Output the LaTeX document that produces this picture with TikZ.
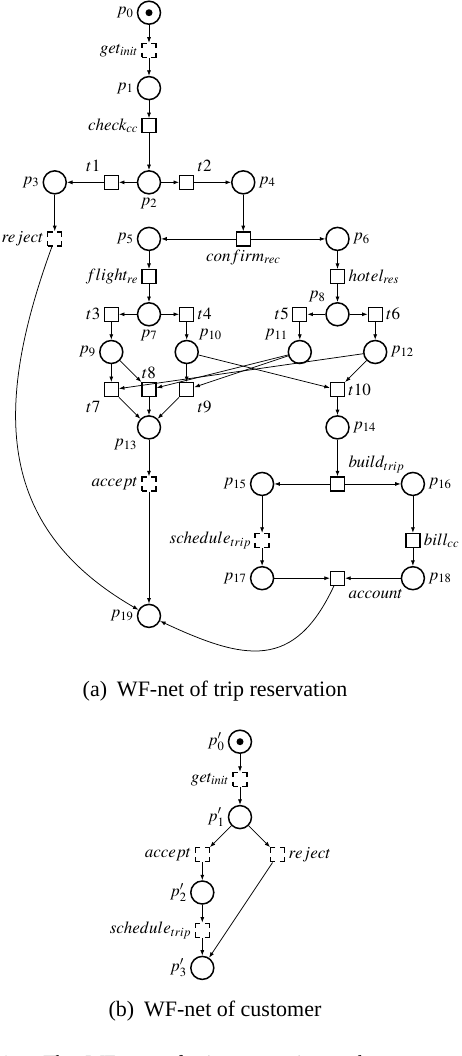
\documentclass[tikz,border=0pt]{standalone}
\usepackage{mathptmx}
\usepackage[no-math]{fontspec}
\setmainfont{Liberation Serif}
\usepackage{amsmath}
\usetikzlibrary{arrows, arrows.meta, positioning}

\begin{document}
\begin{tikzpicture}[
    x=1pt, y=1pt, on grid, node distance=37.7pt,
    >={Latex[length=5.5pt,width=4pt]}, line width=0.75pt,
    font=\fontsize{17}{17}\selectfont,
    place/.style={circle,draw,line width=1.5pt,minimum size=23pt,inner sep=0pt},
    trans/.style={rectangle,draw,line width=1.3pt,minimum size=14pt,inner sep=0pt},
    silent/.style={trans,dash pattern=on 9.5pt off 4.5pt,dash phase=4.75pt},
    token/.style={circle,fill,minimum size=7pt,inner sep=0pt},
    lbl/.style={rectangle,inner sep=3pt},
    capt/.style={rectangle,inner sep=0pt,font=\fontsize{22}{24}\selectfont}]

        \useasboundingbox (0,0) rectangle (462,-1056);
        \clip (0,0) rectangle (462,-1056);

        % (a) trip reservation
        \node[place] (p_0) at (149,-12.7) {};
        \node[token] (p_0k) at (p_0) {};
        \node[lbl, left] (p_0l) at (p_0.west) {$p_0$};

        \node[silent] (get) [below=of p_0] {};
        \node[lbl, left] (getl) at (get.west) {$get_{init}$};

        \node[place] (p_1) [below=of get] {};
        \node[lbl, left] (p_1l) at (p_1.west) {$p_1$};

        \node[trans] (check) [below=of p_1] {};
        \node[lbl, left] (checkl) at (check.west) {$check_{cc}$};

        \node[place] (p_2) [below=56.55pt of check] {};
        \node[lbl, below] (p_2l) at (p_2.south) {$p_2$};

        \node[trans] (t_1) [left=of p_2] {};
        \node[lbl, above left] (t_1l) at (t_1.north west) {$t1$};

        \node[place] (p_3) [left=56.55pt of t_1] {};
        \node[lbl, left] (p_3l) at (p_3.west) {$p_3$};

        \node[trans] (t_2) [right=of p_2] {};
        \node[lbl, above right] (t_2l) at (t_2.north east) {$t2$};

        \node[place] (p_4) [right=56.55pt of t_2] {};
        \node[lbl, right] (p_4l) at (p_4.east) {$p_4$};

        \node[silent] (reject) [below=56.55pt of p_3] {};
        \node[lbl, left] (rejectl) at (reject.west) {$reject$};

        \node[place] (p_5) [below=56.55pt of p_2] {};
        \node[lbl, left] (p_5l) at (p_5.west) {$p_5$};

        \node[trans] (confirm) [below=56.55pt of p_4] {};
        \node[lbl, below] (confirml) at (confirm.south) {$confirm_{rec}$};

        \node[place] (p_6) [right=94.25pt of confirm] {};
        \node[lbl, right] (p_6l) at (p_6.east) {$p_6$};

        \node[trans] (flight) [below=of p_5] {};
        \node[lbl, left] (flightl) at (flight.west) {$flight_{re}$};

        \node[trans] (hotel) [below=of p_6] {};
        \node[lbl, right] (hotell) at (hotel.east) {$hotel_{res}$};

        \node[place] (p_7) [below=of flight] {};
        \node[lbl, below] (p_7l) at (p_7.south) {$p_7$};

        \node[trans] (t_3) [left=of p_7] {};
        \node[lbl, left] (t_3l) at (t_3.west) {$t3$};

        \node[trans] (t_4) [right=of p_7] {};
        \node[lbl, right] (t_4l) at (t_4.east) {$t4$};

        \node[place] (p_8) [below=of hotel] {};
        \node[lbl, above left] (p_8l) at (p_8.north west) {$p_8$};

        \node[trans] (t_5) [left=of p_8] {};
        \node[lbl, left] (t_5l) at (t_5.west) {$t5$};

        \node[trans] (t_6) [right=of p_8] {};
        \node[lbl, right] (t_6l) at (t_6.east) {$t6$};

        \node[place] (p_9) [below=of t_3] {};
        \node[lbl, left] (p_9l) at (p_9.west) {$p_9$};

        \node[place] (p_10) [below=of t_4] {};
        \node[lbl, above right] (p_10l) at (p_10.north east) {$p_{10}$};

        \node[place] (p_11) [below=of t_5] {};
        \node[lbl, above left] (p_11l) at (p_11.north west) {$p_{11}$};

        \node[place] (p_12) [below=of t_6] {};
        \node[lbl, right] (p_12l) at (p_12.east) {$p_{12}$};

        \node[trans] (t_7) [below=of p_9] {};
        \node[lbl, below left] (t_7l) at (t_7.south west) {$t7$};

        \node[trans] (t_8) [right=of t_7] {};
        \node[lbl, above] (t_8l) at (t_8.north) {$t8$};

        \node[trans] (t_9) [below=of p_10] {};
        \node[lbl, below right] (t_9l) at (t_9.south east) {$t9$};

        \node[trans] (t_10) [below=75.4pt of p_8] {};
        \node[lbl, right] (t_10l) at (t_10.east) {$t10$};

        \node[place] (p_13) [below=of t_8] {};
        \node[lbl, below left] (p_13l) at (p_13.south west) {$p_{13}$};

        \node[place] (p_14) [below=of t_10] {};
        \node[lbl, right] (p_14l) at (p_14.east) {$p_{14}$};

        \node[silent] (accept) [below=56.55pt of p_13] {};
        \node[lbl, left] (acceptl) at (accept.west) {$accept$};

        \node[trans] (build) [below=56.55pt of p_14] {};
        \node[lbl, above right] (buildl) at (build.north east) {$build_{trip}$};

        \node[place] (p_15) [left=75.4pt of build] {};
        \node[lbl, left] (p_15l) at (p_15.west) {$p_{15}$};

        \node[place] (p_16) [right=75.4pt of build] {};
        \node[lbl, right] (p_16l) at (p_16.east) {$p_{16}$};

        \node[silent] (schedule) [below=56.55pt of p_15] {};
        \node[lbl, left] (schedulel) at (schedule.west) {$schedule_{trip}$};

        \node[trans] (bill) [below=56.55pt of p_16] {};
        \node[lbl, right] (billl) at (bill.east) {$bill_{cc}$};

        \node[place] (p_17) [below=of schedule] {};
        \node[lbl, left] (p_17l) at (p_17.west) {$p_{17}$};

        \node[place] (p_18) [below=of bill] {};
        \node[lbl, right] (p_18l) at (p_18.east) {$p_{18}$};

        \node[trans] (account) [right=75.4pt of p_17] {};
        \node[lbl, below right] (accountl) at (account.south east) {$account$};

        \node[place] (p_19) [below=131.95pt of accept] {};
        \node[lbl, left] (p_19l) at (p_19.west) {$p_{19}$};

        \draw[->] (p_0) -- (get);
        \draw[->] (get) -- (p_1);
        \draw[->] (p_1) -- (check);
        \draw[->] (check) -- (p_2);
        \draw[->] (p_2) -- (t_1);
        \draw[->] (t_1) -- (p_3);
        \draw[->] (p_2) -- (t_2);
        \draw[->] (t_2) -- (p_4);
        \draw[->] (p_3) -- (reject);
        \draw[->] (p_4) -- (confirm);
        \draw[->] (confirm) -- (p_5);
        \draw[->] (confirm) -- (p_6);
        \draw[->] (p_5) -- (flight);
        \draw[->] (flight) -- (p_7);
        \draw[->] (p_6) -- (hotel);
        \draw[->] (hotel) -- (p_8);
        \draw[->] (p_7) -- (t_3);
        \draw[->] (p_7) -- (t_4);
        \draw[->] (p_8) -- (t_5);
        \draw[->] (p_8) -- (t_6);
        \draw[->] (t_3) -- (p_9);
        \draw[->] (t_4) -- (p_10);
        \draw[->] (t_5) -- (p_11);
        \draw[->] (t_6) -- (p_12);

        \draw[->] (p_9) -- (t_7);
        \draw[->] (p_9) -- (t_8);
        \draw[->] (p_10) -- (t_9);
        \draw[->] (p_10) -- (t_10);
        \draw[->] (p_11) -- (t_8);
        \draw[->] (p_11) -- (t_9);
        \draw[->] (p_12) -- (t_7);
        \draw[->] (p_12) -- (t_10);

        \draw[->] (t_7) -- (p_13);
        \draw[->] (t_8) -- (p_13);
        \draw[->] (t_9) -- (p_13);
        \draw[->] (t_10) -- (p_14);
        \draw[->] (p_13) -- (accept);
        \draw[->] (accept) -- (p_19);
        \draw[->] (p_14) -- (build);
        \draw[->] (build) -- (p_15);
        \draw[->] (build) -- (p_16);
        \draw[->] (p_15) -- (schedule);
        \draw[->] (schedule) -- (p_17);
        \draw[->] (p_16) -- (bill);
        \draw[->] (bill) -- (p_18);
        \draw[->] (p_17) -- (account);
        \draw[->] (p_18) -- (account);

        \draw[->] (reject) to[out=-110, in=150, looseness=1.15] (p_19);
        \draw[->] (account) to[out=-115, in=-25, looseness=1.35] (p_19);

        \node[capt, anchor=base] (capa) at (215,-696) {(a)\hspace{0.45em}WF-net of trip reservation};

        % (b) customer
        \node[place] (q_0) at (240,-741.7) {};
        \node[token] (q_0k) at (q_0) {};
        \node[lbl, left] (q_0l) at (q_0.west) {$p'_0$};

        \node[silent] (get2) [below=of q_0] {};
        \node[lbl, left] (get2l) at (get2.west) {$get_{init}$};

        \node[place] (q_1) [below=of get2] {};
        \node[lbl, left] (q_1l) at (q_1.west) {$p'_1$};

        \node[silent] (accept2) [below left=37.7pt and 37.7pt of q_1] {};
        \node[lbl, left] (accept2l) at (accept2.west) {$accept$};

        \node[silent] (reject2) [below right=37.7pt and 37.7pt of q_1] {};
        \node[lbl, right] (reject2l) at (reject2.east) {$reject$};

        \node[place] (q_2) [below=of accept2] {};
        \node[lbl, left] (q_2l) at (q_2.west) {$p'_2$};

        \node[silent] (schedule2) [below=of q_2] {};
        \node[lbl, left] (schedule2l) at (schedule2.west) {$schedule_{trip}$};

        \node[place] (q_3) [below=of schedule2] {};
        \node[lbl, left] (q_3l) at (q_3.west) {$p'_3$};

        \draw[->] (q_0) -- (get2);
        \draw[->] (get2) -- (q_1);
        \draw[->] (q_1) -- (accept2);
        \draw[->] (q_1) -- (reject2);
        \draw[->] (accept2) -- (q_2);
        \draw[->] (q_2) -- (schedule2);
        \draw[->] (schedule2) -- (q_3);
        \draw[->] (reject2) -- (q_3);

        \node[capt, anchor=base] (capb) at (215,-1016.5) {(b)\hspace{0.45em}WF-net of customer};

        \node[capt, anchor=base west, font=\fontsize{20}{24}\selectfont] (fig) at (-43.1,-1069)
            {\spaceskip=11.4pt Fig.\hspace{11.4pt}1.\hspace{28pt}The WF-nets of trip reservation and customer.};

    \end{tikzpicture}
\end{document}
